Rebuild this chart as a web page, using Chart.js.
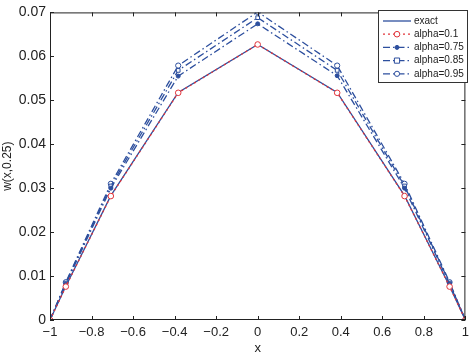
<!DOCTYPE html>
<html>
<head>
<meta charset="utf-8">
<script src="https://cdn.jsdelivr.net/npm/chart.js@4.4.1/dist/chart.umd.min.js"></script>
<style>
  html, body { margin: 0; padding: 0; background: #fff; }
  #wrap { width: 474px; height: 358px; position: relative; }
</style>
</head>
<body>
<div id="wrap"><canvas id="c" width="474" height="358"></canvas></div>
<script>
// Chebyshev-Gauss-Lobatto nodes
const xNodes = [-1, -0.9239, -0.7071, -0.3827, 0, 0.3827, 0.7071, 0.9239, 1];
const exact    = [0, 0.0077, 0.0283, 0.0518, 0.0627, 0.0518, 0.0283, 0.0077, 0];
const alpha01  = [0, 0.0076, 0.0282, 0.0517, 0.0627, 0.0517, 0.0282, 0.0076, 0];
const alpha075 = [0, 0.0082, 0.0300, 0.0555, 0.0674, 0.0556, 0.0300, 0.0082, 0];
const alpha085 = [0, 0.0084, 0.0305, 0.0568, 0.0688, 0.0568, 0.0305, 0.0084, 0];
const alpha095 = [0, 0.0086, 0.0310, 0.0579, 0.0701, 0.0579, 0.0310, 0.0086, 0];
const seriesNames = ['exact', 'alpha=0.1', 'alpha=0.75', 'alpha=0.85', 'alpha=0.95'];
const xTicks = [-1, -0.8, -0.6, -0.4, -0.2, 0, 0.2, 0.4, 0.6, 0.8, 1];
const yTicks = [0, 0.01, 0.02, 0.03, 0.04, 0.05, 0.06, 0.07];

const BLUE = '#2d4f9e';
const RED = '#e2343a';
const FONT = "'Liberation Sans', Arial, sans-serif";

const pts = ys => xNodes.map((x, i) => ({ x, y: ys[i] }));
const fmt = v => {
  if (Math.abs(v) < 1e-9) return '0';
  return String(+v.toFixed(2)).replace('-', '\u2212');
};

// legend order follows seriesNames; `order` decides what is drawn on top (red over exact)
const datasets = [
  { label: seriesNames[0], data: pts(exact), borderColor: BLUE, borderDash: [], pointRadius: 0, pointStyle: false, order: 1 },
  { label: seriesNames[1], data: pts(alpha01), borderColor: RED, borderDash: [2, 3], pointStyle: 'circle', pointRadius: 2.8, pointBorderColor: RED, pointBackgroundColor: '#fff', order: 0 },
  { label: seriesNames[2], data: pts(alpha075), borderColor: BLUE, borderDash: [7, 3, 1.5, 3], pointStyle: 'circle', pointRadius: 2, pointBorderColor: BLUE, pointBackgroundColor: BLUE, order: 2 },
  { label: seriesNames[3], data: pts(alpha085), borderColor: BLUE, borderDash: [7, 3, 1.5, 3], pointStyle: 'rect', pointRadius: 2.6, pointBorderColor: BLUE, pointBackgroundColor: '#fff', order: 3 },
  { label: seriesNames[4], data: pts(alpha095), borderColor: BLUE, borderDash: [7, 3, 1.5, 3], pointStyle: 'circle', pointRadius: 2.6, pointBorderColor: BLUE, pointBackgroundColor: '#fff', order: 4 }
].map(d => Object.assign({ showLine: true, backgroundColor: 'transparent', borderWidth: 1.3, pointBorderWidth: 1, tension: 0, pointHoverRadius: 0 }, d));

// MATLAB-style frame: box on all sides with inward ticks, and an inset legend
const framePlugin = {
  id: 'frame',
  afterDatasetsDraw(chart) {
    const { ctx, chartArea: a, scales } = chart;
    ctx.save();
    ctx.strokeStyle = '#222';
    ctx.lineWidth = 1;
    ctx.strokeRect(a.left + 0.5, a.top + 0.5, a.right - a.left - 1, a.bottom - a.top - 1);
    const tl = 4;
    ctx.beginPath();
    xTicks.forEach(v => {
      const px = Math.round(scales.x.getPixelForValue(v)) + 0.5;
      ctx.moveTo(px, a.bottom); ctx.lineTo(px, a.bottom - tl);
      ctx.moveTo(px, a.top); ctx.lineTo(px, a.top + tl);
    });
    yTicks.forEach(v => {
      const py = Math.round(scales.y.getPixelForValue(v)) + 0.5;
      ctx.moveTo(a.left, py); ctx.lineTo(a.left + tl, py);
      ctx.moveTo(a.right, py); ctx.lineTo(a.right - tl, py);
    });
    ctx.stroke();

    // legend box
    const bx = 378, by = 10, bw = 89, bh = 72;
    ctx.fillStyle = '#fff';
    ctx.fillRect(bx, by, bw, bh);
    ctx.strokeStyle = '#333';
    ctx.strokeRect(bx + 0.5, by + 0.5, bw, bh);
    ctx.font = '10px ' + FONT;
    ctx.textBaseline = 'middle';
    chart.data.datasets.forEach((ds, i) => {
      const y = by + 11 + i * 13.2;
      const x0 = bx + 5, x1 = bx + 33, xm = (x0 + x1) / 2;
      ctx.strokeStyle = ds.borderColor;
      ctx.lineWidth = 1.3;
      ctx.setLineDash(ds.borderDash || []);
      ctx.beginPath(); ctx.moveTo(x0, y); ctx.lineTo(x1, y); ctx.stroke();
      ctx.setLineDash([]);
      if (ds.pointStyle) {
        ctx.lineWidth = 1;
        ctx.fillStyle = ds.pointBackgroundColor;
        ctx.strokeStyle = ds.pointBorderColor;
        ctx.beginPath();
        if (ds.pointStyle === 'rect') {
          ctx.rect(xm - ds.pointRadius, y - ds.pointRadius, ds.pointRadius * 2, ds.pointRadius * 2);
        } else {
          ctx.arc(xm, y, ds.pointRadius, 0, Math.PI * 2);
        }
        ctx.fill(); ctx.stroke();
      }
      ctx.fillStyle = '#222';
      ctx.textAlign = 'left';
      ctx.fillText(ds.label, bx + 36, y);
    });
    ctx.restore();
  }
};

new Chart(document.getElementById('c'), {
  type: 'scatter',
  data: { datasets },
  options: {
    responsive: false,
    animation: false,
    layout: { padding: { top: 6, right: 3, left: 0, bottom: 0 } },
    plugins: { legend: { display: false }, tooltip: { enabled: false } },
    scales: {
      x: {
        type: 'linear', min: -1, max: 1,
        afterFit: s => { s.height = 38; },
        afterBuildTicks: s => { s.ticks = xTicks.map(v => ({ value: v })); },
        grid: { display: false, drawTicks: false },
        border: { display: false },
        ticks: { color: '#222', font: { family: FONT, size: 13 }, padding: 5, maxRotation: 0, callback: v => fmt(v) },
        title: { display: true, text: 'x', color: '#222', font: { family: FONT, size: 13 }, padding: { top: 0, bottom: 2 } }
      },
      y: {
        type: 'linear', min: 0, max: 0.07,
        afterFit: s => { s.width = 50; },
        afterBuildTicks: s => { s.ticks = yTicks.map(v => ({ value: v })); },
        grid: { display: false, drawTicks: false },
        border: { display: false },
        ticks: { color: '#222', font: { family: FONT, size: 14 }, padding: 4, callback: v => fmt(v) },
        title: { display: true, text: 'w(x,0.25)', color: '#222', font: { family: FONT, size: 12 }, padding: { top: 0, bottom: 0 } }
      }
    }
  },
  plugins: [framePlugin]
});
</script>
</body>
</html>
